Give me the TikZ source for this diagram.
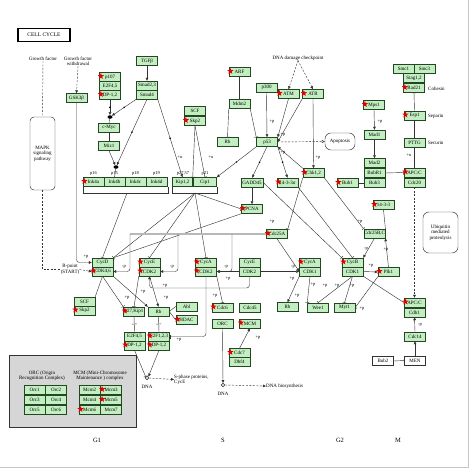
\documentclass[tikz,border=0pt]{standalone}
\usepackage{fontspec}
\setmainfont{Liberation Serif}
\usetikzlibrary{arrows.meta,shapes.geometric,decorations.markings,backgrounds}
\definecolor{kg}{RGB}{194,238,194}
\definecolor{kb}{RGB}{35,70,35}
\definecolor{graybox}{RGB}{214,214,214}
\tikzset{
 gbox/.style={draw=kb,fill=kg,line width=0.45pt,minimum width=21pt,minimum height=9pt,inner sep=0.2pt,font=\fontsize{5}{5}\selectfont},
 wbox/.style={gbox,fill=white,draw=black!80},
 mut/.style={star,star points=5,star point ratio=2.3,fill=red!90!black,draw=none,inner sep=0pt,minimum size=6.5pt},
 lab/.style={inner sep=0pt,font=\fontsize{4.5}{4.5}\selectfont},
 txt/.style={inner sep=0pt,align=center,font=\fontsize{5}{5.4}\selectfont},
 con/.style={line width=0.42pt,draw=black!80},
 act/.style={con,-{Triangle[length=3pt,width=2.6pt]}},
 inh/.style={con,-{Bar[width=4pt]}},
 dsh/.style={con,dash pattern=on 2pt off 1.5pt},
 dotm/.style={postaction={decorate},decoration={markings,mark=at position 0.5 with {\fill (0,0) circle (0.9pt);}}},
 tickm/.style={postaction={decorate},decoration={markings,mark=at position 0.5 with {\draw[line width=0.45pt] (0,-2.5pt) -- (0,2.5pt);}}},
 rbox/.style={draw=black!80,rounded corners=4pt,line width=0.45pt,align=center,inner sep=0.5pt,font=\fontsize{5}{5.4}\selectfont},
 phase/.style={inner sep=0pt,font=\fontsize{6.5}{6.5}\selectfont},
 dnac/.style={circle,draw=black!85,line width=0.45pt,inner sep=0pt,minimum size=3.5pt},
 blob/.style={ellipse,fill=black,inner sep=0pt,minimum width=5pt,minimum height=3.5pt},
}
\newcommand\mutat[2]{\node[mut] (#1) at ([xshift=1.6pt,yshift=0.8pt]#2.west) {};}
\newcommand\plab[4]{\node[lab] (#1) at (#2,#3) {#4};}
\begin{document}
\begin{tikzpicture}[x=1pt,y=-1pt]
\useasboundingbox (0,0) rectangle (474,474);
\draw[black!22,line width=0.8pt] (0,467) -- (468,467) -- (468,0);

% ---------- gray legend box ----------
\draw[fill=graybox,draw=black!80,line width=0.9pt] (9,355) rectangle (136,427);
\node[txt] (orct) at (42,375.5) {ORC (Origin\\Recognition Complex)};
\node[txt] (mcmt) at (100,375.5) {MCM (Mini-Chromosome\\Maintenance ) complex};
\node[gbox] (orc1) at (34.7,390) {Orc1}; \node[gbox] (orc2) at (56.2,390) {Orc2};
\node[gbox] (orc3) at (34.7,400) {Orc3}; \node[gbox] (orc4) at (56.2,400) {Orc4};
\node[gbox] (orc5) at (34.7,410) {Orc5}; \node[gbox] (orc6) at (56.2,410) {Orc6};
\node[gbox] (mcm2) at (89.7,390) {Mcm2}; \node[gbox] (mcm3) at (111.2,390) {Mcm3};
\node[gbox] (mcm4) at (89.7,400) {Mcm4}; \node[gbox] (mcm5) at (111.2,400) {Mcm5};
\node[gbox] (mcm6) at (89.7,410) {Mcm6}; \node[gbox] (mcm7) at (111.2,410) {Mcm7};

% ---------- top left ----------
\node[draw,line width=1.1pt,minimum width=52pt,minimum height=13pt,inner sep=0pt,font=\fontsize{5.5}{5.5}\selectfont] (cc) at (44,35) {CELL CYCLE};
\node[txt] (gf) at (43,59) {Growth factor};
\node[txt] (gfw) at (78,61.5) {Growth factor\\withdrawal};
\node[rbox,minimum width=25pt,minimum height=73pt] (mapk) at (42.5,153.5) {MAPK\\signaling\\pathway};
\node[gbox] (gsk) at (76.5,98) {GSK3β};
\node[txt] (rp) at (70,269.5) {R-point\\(START)};

\node[gbox] (p107) at (110,77) {p107};
\node[gbox] (e2f45a) at (110,86) {E2F4,5};
\node[gbox] (dp12a) at (110,95) {DP-1,2};
\node[blob] (blob1) at (110,117) {};
\node[gbox] (cmyc) at (109,127.5) {c-Myc};
\node[gbox] (miz1) at (109,146) {Miz1};
\node[gbox] (tgfb) at (147,61) {TGFβ};
\node[gbox] (smad23) at (147,85.5) {Smad2,3};
\node[gbox] (smad4) at (147,94.5) {Smad4};
\node[blob] (blob2) at (116,167) {};

\node[lab] (lp16) at (93.5,173) {p16};
\node[lab] (lp15) at (114.5,173) {p15};
\node[lab] (lp18) at (135.5,173) {p18};
\node[lab] (lp19) at (156.5,173) {p19};
\node[gbox] (ink4a) at (93.5,182) {Ink4a};
\node[gbox] (ink4b) at (114.5,182) {Ink4b};
\node[gbox] (ink4c) at (135.5,182) {Ink4c};
\node[gbox] (ink4d) at (156.5,182) {Ink4d};
\node[lab] (lp27) at (183,173) {p27,57};
\node[lab] (lp21) at (205,173) {p21};
\node[gbox,minimum width=20pt] (kip12) at (182.5,182) {Kip1,2};
\node[gbox,minimum width=23pt] (cip1) at (205,182) {Cip1};
\coordinate (ib1) at (83,187); \coordinate (ib2) at (83,193);
\coordinate (ib3) at (168,193); \coordinate (ib4) at (168,187);
\coordinate (ibm) at (127,193);
\coordinate (kb1) at (172,187); \coordinate (kb2) at (172,193);
\coordinate (kb3) at (217,193); \coordinate (kb4) at (217,187);
\coordinate (kbm) at (195,193);

% ---------- top middle ----------
\node[gbox] (scf2) at (195,111) {SCF};
\node[gbox] (skp2b) at (195,121) {Skp2};
\node[gbox] (arf) at (239.5,72) {ARF};
\node[gbox] (mdm2) at (239.5,104) {Mdm2};
\node[gbox] (rbm) at (227.5,142) {Rb};
\node[gbox] (p300) at (266.5,87.5) {p300};
\node[gbox] (p53) at (267,142) {p53};
\node[txt] (dnadc) at (298,58) {DNA damage checkpoint};
\node[gbox] (atm) at (288.5,94) {ATM};
\node[gbox] (atr) at (313,94) {ATR};
\node[rbox,minimum width=30pt,minimum height=17pt,rounded corners=6pt] (apop) at (340,141.5) {Apoptosis};
\node[gbox,minimum width=22pt] (gadd) at (252,182.5) {GADD45};
\node[gbox] (s1433) at (287.5,182.5) {14-3-3σ};
\node[gbox] (chk) at (313.5,173) {Chk1,2};
\node[gbox] (pcna) at (252,209) {PCNA};
\node[gbox] (cdc25a) at (277,234) {Cdc25A};

% ---------- top right ----------
\node[gbox] (smc1) at (403.5,68.5) {Smc1};
\node[gbox] (smc3) at (424.5,68.5) {Smc3};
\node[gbox] (stag) at (414,78) {Stag1,2};
\node[gbox] (rad21) at (414,88) {Rad21};
\node[txt,anchor=west] (cohe) at (428,88.5) {Cohesin};
\node[gbox] (esp1) at (414.5,115.5) {Esp1};
\node[txt,anchor=west] (sepa) at (428,116) {Separin};
\node[gbox] (pttg) at (414.5,142.5) {PTTG};
\node[txt,anchor=west] (secu) at (428,143) {Securin};
\node[gbox] (mps1) at (374,105) {Mps1};
\node[gbox] (mad1) at (374.5,134.5) {Mad1};
\node[gbox] (mad2) at (374.5,163) {Mad2};
\node[gbox] (bubr1) at (374.5,173) {BubR1};
\node[gbox] (bub3) at (374.5,183) {Bub3};
\node[gbox] (bub1) at (347.5,183) {Bub1};
\node[gbox] (apcc1) at (414.5,172.5) {APC/C};
\node[gbox] (cdc20) at (414.5,182.5) {Cdc20};
\node[rbox,minimum width=35pt,minimum height=41pt,rounded corners=6pt] (ubiq) at (440.5,232.5) {Ubiquitin\\mediated\\proteolysis};
\node[gbox] (s1433b) at (383.5,205) {14-3-3};
\node[gbox] (cdc25bc) at (374.5,233.5) {Cdc25B,C};

% ---------- middle row ----------
\node[gbox] (cycd) at (102.5,262.5) {CycD};
\node[gbox] (cdk46) at (102.5,271.5) {CDK4,6};
\node[gbox] (cyce1) at (149.5,262.5) {CycE};
\node[gbox] (cdk2a) at (149.5,271.5) {CDK2};
\node[gbox] (cyca1) at (206,262.5) {CycA};
\node[gbox] (cdk2b) at (206,271.5) {CDK2};
\node[gbox] (cyce2) at (249.5,262.5) {CycE};
\node[gbox] (cdk2c) at (249.5,271.5) {CDK2};
\node[gbox] (cyca2) at (310,262.5) {CycA};
\node[gbox] (cdk1a) at (310,271.5) {CDK1};
\node[gbox] (cycb) at (352.5,262.5) {CycB};
\node[gbox] (cdk1b) at (352.5,271.5) {CDK1};
\node[gbox] (plk1) at (388.5,272) {Plk1};
\node[gbox] (apcc2) at (414.5,302.5) {APC/C};
\node[gbox] (cdh1) at (414.5,312.5) {Cdh1};
\node[gbox] (cdc14) at (415,336.5) {Cdc14};
\node[wbox] (men) at (415,360.5) {MEN};
\node[wbox] (bub2) at (383,361) {Bub2};

% ---------- bottom ----------
\node[gbox] (scf1) at (84.5,301.5) {SCF};
\node[gbox] (skp2a) at (84.5,310.5) {Skp2};
\node[gbox] (p27) at (134,311.5) {p27,Kip1};
\node[gbox] (rb1) at (158.5,311.5) {Rb};
\node[gbox] (e2f45b) at (134.5,336.5) {E2F4,5};
\node[gbox] (dp12b) at (134.5,345.5) {DP-1,2};
\node[gbox] (e2f123) at (159,336.5) {E2F1,2,3};
\node[gbox] (dp12c) at (159,345.5) {DP-1,2};
\node[gbox] (abl) at (186.5,306.5) {Abl};
\node[gbox] (hdac) at (186.5,320) {HDAC};
\node[gbox] (cdc6) at (222.5,307.5) {Cdc6};
\node[gbox] (cdc45) at (250,307.5) {Cdc45};
\node[gbox] (orc) at (222.5,323.5) {ORC};
\node[gbox] (mcm) at (250,323.5) {MCM};
\node[gbox] (cdc7) at (239.5,353) {Cdc7};
\node[gbox] (dbf4) at (239.5,362) {Dbf4};
\node[gbox] (rb2) at (287.5,307) {Rb};
\node[gbox] (wee1) at (318,307.5) {Wee1};
\node[gbox] (myt1) at (344.5,307.5) {Myt1};
\node[dnac] (dna1) at (147,378) {};
\node[txt] (dna1t) at (147,386.5) {DNA};
\node[txt,anchor=west,align=left] (sph) at (174,379.5) {S-phase proteins,\\CycE};
\node[dnac] (dna2) at (223,385) {};
\node[txt] (dna2t) at (223,394) {DNA};
\node[txt,anchor=west] (dnab) at (266,386) {DNA biosynthesis};

\node[phase] (g1) at (97,440) {G1};
\node[phase] (sph1) at (223,440) {S};
\node[phase] (g2) at (340,440) {G2};
\node[phase] (mph) at (398,440) {M};

% ---------- stars ----------
\mutat{st1}{p107} \mutat{st2}{dp12a} \mutat{st3}{ink4a} \mutat{st4}{skp2b}
\mutat{st5}{arf} \mutat{st6}{atm} \mutat{st7}{atr} \mutat{st8}{s1433}
\mutat{st9}{chk} \mutat{st10}{pcna} \mutat{st11}{cdc25a} \mutat{st12}{rad21}
\mutat{st13}{esp1} \mutat{st14}{mps1} \mutat{st15}{bub1} \mutat{st16}{apcc1}
\mutat{st17}{s1433b} \mutat{st18}{cdk46} \mutat{st19}{cyce1} \mutat{st20}{cdk2a}
\mutat{st21}{cyca1} \mutat{st22}{cdk2b} \mutat{st23}{cyca2} \mutat{st24}{cycb}
\mutat{st25}{plk1} \mutat{st26}{apcc2} \mutat{st27}{skp2a} \mutat{st28}{p27}
\mutat{st29}{dp12b} \mutat{st30}{e2f123} \mutat{st31}{dp12c} \mutat{st32}{hdac}
\mutat{st33}{cdc6} \mutat{st34}{mcm} \mutat{st35}{cdc7} \mutat{st36}{mcm3}
\mutat{st37}{mcm5} \mutat{st38}{mcm6}

% ---------- labels ----------
\plab{l1}{86}{257}{+p} \plab{l2}{124}{266.5}{-p} \plab{l3}{172}{266.5}{-p}
\plab{l4}{226}{266.5}{-p} \plab{l5}{228}{279}{+p} \plab{l6}{293}{266.5}{-p}
\plab{l7}{292}{279}{+p} \plab{l8}{165}{285.5}{+p} \plab{l9}{272}{222}{+p}
\plab{l10}{360}{222}{+p} \plab{l11}{272}{122}{+p} \plab{l12}{283}{135}{+p}
\plab{l13}{283}{153}{+p} \plab{l14}{318}{158}{+p} \plab{l15}{180}{157}{+u}
\plab{l16}{211}{157}{+u} \plab{l17}{380}{122}{+p} \plab{l18}{409}{155}{+u}
\plab{l19}{366}{249}{-p} \plab{l20}{386}{250}{+p} \plab{l21}{371}{266}{+p}
\plab{l22}{325}{286}{+p} \plab{l23}{337}{286}{+p} \plab{l24}{352}{286}{+p}
\plab{l25}{297}{296}{+p} \plab{l26}{313}{285}{+p} \plab{l27}{362}{309}{+p}
\plab{l28}{420}{325}{-p} \plab{l29}{127}{298}{+p} \plab{l30}{143}{292}{+p}
\plab{l31}{166}{298}{+p} \plab{l32}{179}{340}{+p} \plab{l33}{215}{296}{+p}
\plab{l34}{258}{338}{+p}

% ---------- connectors ----------
\begin{scope}[on background layer]
\fill[white] (0,0) rectangle (474,474);
\draw[dsh] (gf.south) -- (mapk.north);
\draw[dsh,act] (gfw.south) -- (gsk.north);
\draw[dsh] (mapk.south) |- (rp.west);
\draw[dsh,act] (rp.east) -- (cdk46.west);
\draw[act,rounded corners=3pt] (gsk.south) |- (cycd.west);
\draw[act,dotm] (dp12a.south) -- (blob1);
\draw[act,dotm] (smad4.south west) -- (blob1);
\draw[con] (blob1) -- (cmyc.north);
\draw[inh] (cmyc.south) -- (miz1.north);
\draw[act] (miz1.south) -- (blob2);
\draw[act,dotm] (smad4.south) -- (blob2);
\draw[con] (blob2) -- (ink4b.north);
\draw[act] (tgfb.south) -- (smad23.north);
\draw[act,dotm] (smad4.south east) -- (kip12.north);
\draw[inh] (skp2b.south) -- (kip12.north east);
\draw[inh] (skp2b.south) -- (cip1.north);
\draw[con] (ib1) -- (ib2) -- (ib3) -- (ib4);
\draw[con] (kb1) -- (kb2) -- (kb3) -- (kb4);
\draw[inh] (ibm) -- (cycd.north);
\draw[inh] (kbm) -- (cycd.north east);
\draw[inh] (kbm) -- (cyce1.north);
\draw[inh] (kbm) -- (cyca1.north);
\draw[inh] (kbm) -- (pcna.west);
\draw[con] (pcna.south west) -- (cycd.north east);
\draw[inh] (arf.south) -- (mdm2.north);
\draw[inh] (mdm2.south west) -- (rbm.north);
\draw[inh] (mdm2.south east) -- (p53.north west);
\draw[act] (p300.south) -- (p53.north);
\draw[dsh,act] (dnadc.south) -- (atm.north);
\draw[dsh,act] (dnadc.south) -- (atr.north);
\draw[act] (atm.south) -- (p53.north east);
\draw[act] (atr.south west) -- (p53.east);
\draw[act] (atr.south) -- (chk.north);
\draw[act] (chk.north west) -- (p53.south east);
\draw[dsh,-{Triangle[open,length=3pt,width=3pt]}] (p53.east) -- (apop.west);
\draw[act,dotm] (p53.south) -- (gadd.north);
\draw[act,dotm] (p53.south east) -- (s1433.north);
\draw[act,dotm] (p53.south west) -- (cip1.north east);
\draw[act] (gadd.south) -- (pcna.north);
\draw[inh] (gadd.east) -- (cycb.north west);
\draw[inh] (s1433.south east) -- (cycb.north);
\draw[inh] (chk.south west) -- (cdc25a.north east);
\draw[inh] (chk.south east) -- (cdc25bc.north west);
\draw[con] (s1433b.south) -- (cdc25bc.north east);
% thick Cdc25A line
\coordinate (c1) at (130,234); \coordinate (c2) at (178,234); \coordinate (c3) at (232,234);
\draw[draw=black!65,line width=0.5pt,double=black!28,double distance=1.3pt] (cdc25a.west) -- (c1);
\draw[act,rounded corners=3pt] (c1) |- (cdk46.east);
\draw[act,rounded corners=3pt] (c2) |- (cdk2a.east);
\draw[act,rounded corners=3pt] (c3) |- (cdk2b.east);
\draw[act] (cdc25a.south) -- (cdk1a.west);
\draw[act] (cdk2c.east) -- (cdk1a.west);
\draw[act] (cdk2c.west) -- (cdk2b.east);
\coordinate (lp) at (249.5,288);
\draw[act,rounded corners=3pt] (cdk2c.south) -- (lp) -| (cdk2a.south);
\draw[act] (cdc25bc.south) -- (cycb.north east);
\draw[act] (plk1.north) -- (cdc25bc.south east);
\draw[act] (cdk1b.east) -- (plk1.west);
\draw[inh] (cdk1a.south) -- (wee1.north west);
\draw[act] (cdk1a.south west) -- (rb2.north);
\draw[inh] (cdk1b.south) -- (wee1.north);
\draw[inh] (cdk1b.south) -- (myt1.north);
\draw[inh] (plk1.south west) -- (myt1.east);
\draw[con] (cdk1b.south east) -- (apcc2.west);
\draw[dsh,act] (cdc20.south) -- (apcc2.north);
\draw[act] (cdc14.north) -- (cdh1.south);
\draw[act] (men.north) -- (cdc14.south);
\draw[inh] (bub2.east) -- (men.west);
\draw[con] (bub1.east) -- (bub3.west);
\draw[inh] (bubr1.east) -- (apcc1.west);
\draw[act] (mad1.south) -- (mad2.north);
\draw[act] (mps1.south) -- (mad1.north);
\draw[inh] (esp1.north) -- (rad21.south);
\draw[inh] (pttg.north) -- (esp1.south);
\draw[inh] (apcc1.north) -- (pttg.south);
% G1 bottom
\draw[act] (cdk46.south east) -- (rb1.north west);
\draw[act] (cdk2a.south) -- (rb1.north);
\draw[inh] (cdk46.south) -- (p27.north west);
\draw[inh] (cdk2a.south west) -- (p27.north);
\draw[con] (scf1.north east) -- (cdk46.south);
\draw[con,tickm] (p27.south) -- (e2f45b.north);
\draw[con,tickm] (rb1.south) -- (e2f123.north);
\draw[con] (rb1.east) -- (abl.west);
\draw[con] (rb1.east) -- (hdac.west);
\draw[inh,rounded corners=3pt] (cdk2b.south) |- (e2f123.east);
\draw[inh] (cdk2b.south east) -- (cdc6.north);
\draw[act] (orc.south) -- (dna2.north);
\draw[act] (cdc7.north) -- (mcm.south);
\draw[inh] (dp12b.south) -- (dna1.north west);
\draw[act] (dp12c.south) -- (dna1.north east);
\draw[dsh,act] (dna1.east) -- (sph.west);
\draw[dsh,act] (dna2.east) -- (dnab.west);
\end{scope}
\end{tikzpicture}
\end{document}
